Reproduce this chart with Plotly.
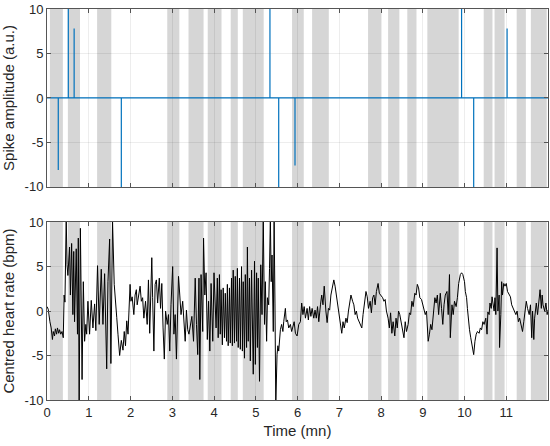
import plotly.graph_objects as go
from plotly.subplots import make_subplots

# grey periods (start, end) in minutes
band_start = [0.07, 0.50, 1.20, 2.88, 3.39, 3.85, 4.40, 4.69, 5.87, 6.35,
              7.69, 8.17, 8.63, 9.11, 10.46, 10.72, 11.25, 11.59]
band_end = [0.38, 0.79, 1.54, 3.17, 3.75, 4.18, 4.57, 5.19, 6.15, 6.75,
            8.00, 8.44, 8.85, 9.86, 10.67, 10.96, 11.47, 11.97]

# detected spikes
spike_time = [0.27, 0.51, 0.65, 1.78, 5.34, 5.55, 5.94, 9.93, 10.22, 11.02]
spike_amp = [-8.1, 12, 7.8, -12, 12, -12, -7.6, 12, -12, 7.8]

# centred heart rate
hr_time = [
    0.00, 0.03, 0.07, 0.10, 0.13, 0.15, 0.18, 0.20, 0.23, 0.25, 0.28, 0.30, 0.33, 0.36,
    0.39, 0.41, 0.43, 0.46, 0.48, 0.50, 0.54, 0.56, 0.59, 0.62, 0.64, 0.66, 0.70, 0.73,
    0.75, 0.77, 0.80, 0.82, 0.84, 0.87, 0.90, 0.93, 0.95, 0.98,
    1.02, 1.06, 1.10, 1.14, 1.17, 1.21, 1.25, 1.30, 1.34, 1.38, 1.43, 1.46, 1.50, 1.53,
    1.57, 1.61, 1.64, 1.67, 1.70, 1.74, 1.78, 1.82, 1.85, 1.88, 1.91, 1.94, 1.99,
    2.01, 2.04, 2.08, 2.11, 2.14, 2.16, 2.20, 2.23, 2.26, 2.29, 2.32, 2.36, 2.40, 2.43,
    2.46, 2.51, 2.53, 2.56, 2.59, 2.62, 2.65, 2.69, 2.72, 2.75, 2.78, 2.81, 2.84, 2.88,
    2.91, 2.94, 2.97,
    3.01, 3.04, 3.07, 3.10, 3.15, 3.18, 3.21, 3.25, 3.28, 3.31, 3.34, 3.37, 3.40, 3.44,
    3.47, 3.51, 3.55, 3.58, 3.61, 3.64, 3.66, 3.69, 3.73, 3.75, 3.78, 3.81, 3.84, 3.87,
    3.90, 3.93, 3.97,
    4.00, 4.05, 4.08, 4.10, 4.13, 4.15, 4.17, 4.20, 4.22, 4.25, 4.27, 4.30, 4.32, 4.34,
    4.37, 4.39, 4.42, 4.44, 4.46, 4.49, 4.51, 4.54, 4.56, 4.58, 4.61, 4.63, 4.66, 4.68,
    4.70, 4.73, 4.75, 4.78, 4.80, 4.82, 4.85, 4.87, 4.90, 4.92, 4.94, 4.97, 4.99,
    5.02, 5.04, 5.06, 5.09, 5.12, 5.15, 5.18, 5.21, 5.23, 5.26, 5.28, 5.31, 5.33, 5.35,
    5.37, 5.39, 5.42, 5.44, 5.46, 5.48, 5.51, 5.53, 5.55, 5.59, 5.62, 5.65, 5.67, 5.71,
    5.73, 5.76, 5.79, 5.83, 5.86, 5.89, 5.92, 5.95, 5.99,
    6.03, 6.07, 6.10, 6.13, 6.16, 6.19, 6.23, 6.26, 6.29, 6.32, 6.35, 6.39, 6.42, 6.45,
    6.48, 6.51, 6.55, 6.58, 6.61, 6.64, 6.68, 6.71, 6.74, 6.77, 6.80, 6.84, 6.87, 6.90,
    6.93, 6.96, 6.99,
    7.03, 7.06, 7.09, 7.12, 7.16, 7.19, 7.22, 7.25, 7.28, 7.32, 7.35, 7.38, 7.41, 7.44,
    7.48, 7.51, 7.54, 7.57, 7.61, 7.64, 7.67, 7.70, 7.74, 7.77, 7.80, 7.83, 7.86, 7.89,
    7.93, 7.96, 7.99,
    8.04, 8.07, 8.10, 8.13, 8.17, 8.20, 8.23, 8.26, 8.29, 8.33, 8.36, 8.39, 8.42, 8.45,
    8.49, 8.52, 8.55, 8.58, 8.61, 8.65, 8.68, 8.71, 8.74, 8.77, 8.81, 8.84, 8.87, 8.90,
    8.93, 8.97,
    9.00, 9.03, 9.06, 9.09, 9.13, 9.16, 9.19, 9.22, 9.25, 9.29, 9.32, 9.35, 9.38, 9.42,
    9.45, 9.48, 9.51, 9.54, 9.58, 9.61, 9.64, 9.66, 9.70, 9.73, 9.76, 9.80, 9.83, 9.86,
    9.90, 9.93, 9.96,
    10.00, 10.02, 10.05, 10.07, 10.10, 10.12, 10.15, 10.18, 10.22, 10.25, 10.28, 10.31,
    10.35, 10.38, 10.41, 10.44, 10.47, 10.51, 10.54, 10.56, 10.59, 10.61, 10.64, 10.66,
    10.68, 10.71, 10.73, 10.75, 10.78, 10.80, 10.83, 10.84, 10.87, 10.89, 10.91, 10.94,
    10.97,
    11.00, 11.03, 11.07, 11.10, 11.13, 11.16, 11.19, 11.23, 11.26, 11.29, 11.32, 11.35,
    11.39, 11.42, 11.45, 11.48, 11.51, 11.55, 11.58, 11.61, 11.63, 11.66, 11.68, 11.72,
    11.75, 11.78, 11.81, 11.84, 11.86, 11.88, 11.92, 11.95, 11.98, 12.00,
]
hr_value = [
    0.5, 0.2, -1.2, -1.9, -3.2, -2.3, -2.8, -2.0, -2.6, -1.9, -2.5, -2.1, -2.6, -2.3,
    -3.0, 1.8, 1.0, 10.5, 5.2, 4.0, 7.2, 1.8, 7.6, -0.4, 6.7, -1.2, 7.0, -2.6,
    8.2, -10.5, 9.3, -2.3, -7.7, 3.3, -3.4, -1.5, -2.6, 1.1,
    -2.6, 1.2, -1.9, 0.8, -2.2, 5.1, -1.5, 4.7, -1.5, 4.2, -6.5, 3.3, 8.1, -5.9,
    10.0, 3.0, 1.5, -0.7, -2.6, -5.0, -3.3, -4.4, -2.3, -3.9, -1.1, -2.6, 3.0,
    1.1, 1.6, -0.4, 1.8, 2.4, 0.7, 2.0, 2.8, 1.1, 1.5, -0.8, 1.1, -1.5, 3.5,
    -2.5, 6.0, 1.5, -4.5, 3.0, 3.5, 0.9, 3.7, 0.3, 3.1, -1.9, -5.4, 0.0, -1.5,
    -0.4, -4.5, 0.7,
    5.0, -2.6, -0.4, -5.4, 3.9, 1.8, -0.4, 1.1, -0.8, -3.4, 0.1, -2.1, -2.6, -1.5,
    -0.6, -3.4, 3.7, -1.5, -4.9, 3.7, -7.7, 4.1, -2.3, 8.2, 1.8, 4.3, -3.2, 1.1,
    -4.5, 3.1, -3.4,
    4.3, -1.9, 3.7, -3.0, 4.1, -2.6, 2.4, -3.8, 2.6, -3.0, 2.0, -3.4, 3.0, -3.9,
    2.6, -3.6, 3.7, -3.9, 4.6, -3.6, 3.9, -3.4, 4.8, -4.1, 3.7, -4.3, 5.0, -4.5,
    3.3, -5.3, 4.1, -4.1, 7.2, -3.4, 3.7, -5.6, 4.6, -4.9, -7.1, 5.6, -6.0,
    4.3, -4.1, 3.7, -7.9, 5.2, -0.4, 10.5, -1.5, 3.3, -3.4, 1.5, 0.7, 4.8, 10.5,
    3.3, 6.3, -2.3, 10.5, 0.9, -10.5, -4.9, -3.9, -4.5, -2.1, -1.5, -2.3, -1.2, 0.3,
    -1.2, -1.0, -1.9, -1.5, -2.3, -1.7, -1.2, -2.5, -2.8,
    -1.5, -1.2, 0.9, -0.4, 0.5, -0.8, 0.3, -1.0, 0.5, -0.6, 0.3, -0.8, 0.1, -0.8,
    0.5, -1.2, 0.7, 1.8, 0.7, 2.8, 0.0, -1.3, 0.3, 0.1, 1.8, 3.0, 3.5, 2.8,
    1.8, 0.3, -0.4,
    -1.5, -2.5, -1.2, -1.9, -0.8, -1.3, 0.0, 0.9, 1.8, 1.1, 0.7, -0.4, 0.0, -0.8,
    -1.3, -1.7, -1.9, -0.4, 1.3, 2.2, 1.6, 0.3, 1.1, -0.2, 1.5, 1.8, 0.7, 2.2,
    3.1, 2.0, 1.8,
    1.5, 1.1, 1.3, 0.0, -0.8, -1.9, -0.2, -2.5, -1.2, -2.8, -0.8, -1.9, 0.0, -0.4,
    -1.5, -1.9, -3.0, -1.2, -2.3, -1.5, -0.2, -0.4, 1.1, 0.5, 2.0, 1.8, 3.0, 2.6,
    1.5, 1.3,
    0.7, 0.0, -0.4, 0.0, -3.4, -2.6, -1.5, -2.1, -0.4, 1.5, 0.9, 1.8, -0.4, 2.0,
    0.3, -1.5, 0.7, 1.8, 2.2, -0.4, 4.1, -3.0, 0.7, -0.4, 1.1, 0.5, 1.5, 3.1,
    4.1, 4.3, 4.1,
    3.3, 2.2, 1.5, 0.3, -1.9, -2.1, -3.0, -4.1, -4.9, -3.4, -2.6, -2.3,
    -2.5, -1.9, -2.1, -1.2, -1.5, -0.8, -2.6, -0.1, -0.4, 0.9, 0.3, 1.6,
    0.7, 0.0, 1.5, -0.4, 7.1, 0.0, 1.8, -4.1, -0.4, 3.3, 1.8, 3.1,
    2.8,
    3.1, 2.2, 1.8, 1.6, 0.7, 0.3, 0.1, -0.4, 0.0, -1.2, -0.8, -1.5,
    -2.3, -1.2, 0.0, 1.1, 0.3, -0.4, 0.7, -3.0, 0.0, -3.2, -0.8, 0.9,
    -0.4, 1.5, 2.4, 0.3, 1.8, 0.7, 0.0, 0.9, -0.4, 0.1,
]

y_ticks = [-10, -5, 0, 5, 10]
y_tick_text = ["-10", "-5", "0", "5", "10"]
x_ticks = list(range(12))

# spike trace: flat at zero with vertical strokes
sx, sy = [0], [0]
for t, a in zip(spike_time, spike_amp):
    sx += [t, t, t]
    sy += [0, a, 0]
sx.append(12)
sy.append(0)

fig = make_subplots(rows=2, cols=1, vertical_spacing=0.09)

for s, e in zip(band_start, band_end):
    for xr, yr in [("x", "y domain"), ("x2", "y2 domain")]:
        fig.add_shape(type="rect", x0=s, x1=e, y0=0, y1=1, xref=xr, yref=yr,
                      fillcolor="#d6d6d6", line_width=0, layer="below")

fig.add_trace(go.Scatter(x=sx, y=sy, mode="lines",
                         line=dict(color="#0072BD", width=1.2)), row=1, col=1)
fig.add_trace(go.Scatter(x=hr_time, y=hr_value, mode="lines",
                         line=dict(color="black", width=1)), row=2, col=1)

axis_style = dict(showline=True, linecolor="#555", linewidth=1, mirror="ticks",
                  ticks="inside", ticklen=4, tickcolor="#555", automargin=False,
                  showgrid=True, gridcolor="rgba(0,0,0,0.07)", gridwidth=1,
                  zeroline=False, tickfont=dict(size=13, color="#262626"))

fig.update_xaxes(axis_style, range=[0, 12], tickvals=x_ticks)
fig.update_xaxes(showticklabels=False, row=1, col=1)
fig.update_xaxes(title=dict(text="Time (mn)", font=dict(size=15, color="#262626"),
                            standoff=6), row=2, col=1)
fig.update_yaxes(axis_style, range=[-10, 10], tickvals=y_ticks, ticktext=y_tick_text)
fig.update_yaxes(title=dict(text="Spike amplitude (a.u.)",
                            font=dict(size=15, color="#262626"), standoff=6),
                 row=1, col=1)
fig.update_yaxes(title=dict(text="Centred heart rate (bpm)",
                            font=dict(size=15, color="#262626"), standoff=6),
                 row=2, col=1)

fig.update_layout(width=550, height=446, showlegend=False,
                  margin=dict(l=47, r=2, t=9, b=46),
                  paper_bgcolor="white", plot_bgcolor="white",
                  font=dict(family="Liberation Sans, Arial, sans-serif"))

# drop the browser's default body margin so the figure sits at the page corner
fig.write_html("out.html", config={"displayModeBar": False},
               post_script="document.body.style.margin='0';")
